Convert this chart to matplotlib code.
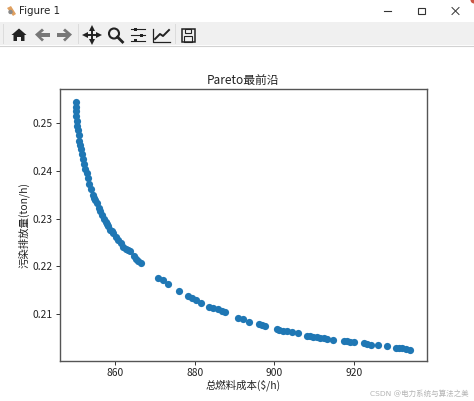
"""Pareto front scatter, inside the toolbar window it was screenshotted from."""
import matplotlib
matplotlib.use("Agg")
import matplotlib.pyplot as plt
from matplotlib.patches import Circle, Polygon, Rectangle

FONT = ["Noto Sans CJK SC", "DejaVu Sans"]
BLUE = "#1f77b4"
EDGE = "#555555"
ICON = "#222222"
ARROW = "#777777"

plt.rcParams["font.family"] = FONT
plt.rcParams["axes.unicode_minus"] = False

cost = [
    850.1, 850.1, 850.2, 850.2, 850.3, 850.4, 850.6, 850.8, 851.0, 851.1, 851.4, 851.6,
    851.9, 852.1, 852.4, 852.8, 853.1, 853.5, 853.9, 854.4, 854.7, 855.0, 855.3, 856.0, 856.3, 856.7,
    857.2, 857.6, 857.9, 858.2, 858.8, 859.1, 859.5, 860.1, 860.7, 861.4, 862.0, 862.7, 863.2, 863.6, 864.6,
    865.2, 865.8, 866.4, 870.8, 872.0, 873.3, 876.1, 878.3, 879.3, 880.3, 881.5, 883.6,
    884.5, 885.8, 886.8, 887.6, 890.8, 892.0, 893.7, 896.2, 896.9, 897.6, 900.6, 901.1,
    902.1, 903.1, 904.3, 906.0, 908.2, 908.9, 909.7, 910.6, 911.4, 912.4, 913.1, 914.8,
    917.5, 918.2, 919.0, 920.0, 922.5, 923.2, 924.2, 926.1, 928.3, 930.5, 931.3, 932.0,
    933.0, 934.1,
]
emission = [
    .2545, .2535, .2525, .2515, .2505, .2495, .2485, .2475, .2462, .2454, .2445, .2435,
    .2425, .2415, .2405, .2395, .2385, .2372, .2362, .2350, .2344, .2338, .2332, .2322, .2315, .2308,
    .2300, .2292, .2288, .2284, .2277, .2274, .2270, .2262, .2256, .2249, .2241, .2236, .2234, .2231, .2222,
    .2215, .2210, .2206, .2176, .2171, .2162, .2148, .2137, .2133, .2129, .2123, .2115,
    .2113, .2111, .2106, .2103, .2091, .2089, .2083, .2078, .2077, .2075, .2069, .2067,
    .2064, .2064, .2062, .2059, .2054, .2053, .2052, .2051, .2050, .2049, .2048, .2046,
    .2043, .2042, .2041, .2040, .2038, .2036, .2035, .2034, .2032, .2029, .2028, .2028,
    .2026, .2025,
]
x_ticks = [860, 880, 900, 920]
y_ticks = [0.21, 0.22, 0.23, 0.24, 0.25]

W, H = 474, 401
fig = plt.figure(figsize=(W / 100, H / 100), dpi=100, facecolor="white")

# plot area, placed by pixels
L, R, T, B = 59.5, 426.5, 88.5, 361
ax = fig.add_axes([L / W, 1 - B / H, (R - L) / W, (B - T) / H])
ax.scatter(cost, emission, s=27, color=BLUE, linewidths=0)
ax.set_xlim(846, 938.2)
ax.set_ylim(0.2001, 0.2573)
ax.set_xticks(x_ticks)
ax.set_yticks(y_ticks)
ax.set_yticklabels([f"{v:.2f}" for v in y_ticks])
ax.tick_params(labelsize=7.4, length=2.8, width=0.7, pad=2.5, color="#333333", labelcolor="#222222")
for s in ax.spines.values():
    s.set_color(EDGE)
    s.set_linewidth(1.0)
ax.set_title("Pareto最前沿", fontsize=8.5, pad=3.5, color="#222222")
ax.set_xlabel("总燃料成本($/h)", fontsize=7.5, labelpad=0.5, color="#222222")
ax.set_ylabel("污染排放量(ton/h)", fontsize=7.5, labelpad=1.5, color="#222222")

# window chrome on a full-figure pixel overlay
ui = fig.add_axes([0, 0, 1, 1], zorder=5)
ui.set_xlim(0, W)
ui.set_ylim(H, 0)
ui.axis("off")
ui.patch.set_alpha(0)

ui.add_patch(Rectangle((0, 22), W, 23, fc="#f0f0f0", ec="none"))
ui.plot([0, W], [45.5, 45.5], color="#d2d2d2", lw=0.8)
for sx in [3, 78.5, 175.5]:
    ui.plot([sx, sx], [24, 43], color="#dcdcdc", lw=0.7)

# title bar
ui.add_patch(Polygon([(7, 8), (11, 6), (16, 14), (13, 16)], fc="#e0a060", ec="none"))
ui.add_patch(Circle((10.5, 12), 2.2, fc="#8a8a8a", ec="none"))
ui.text(19.5, 11, "Figure 1", fontsize=7.4, family="DejaVu Sans", va="center", color="#222222")
ui.plot([384, 391], [11, 11], color="#333333", lw=0.8)
ui.add_patch(Rectangle((418.5, 7.5), 6.5, 6.5, fc="none", ec="#333333", lw=0.8))
ui.plot([452, 459], [7.5, 14.5], color="#333333", lw=0.7)
ui.plot([452, 459], [14.5, 7.5], color="#333333", lw=0.7)
ui.add_patch(Circle((474, 0), 3.5, fc="#cc5544", ec="none"))

# home
ui.add_patch(Polygon([(11.5, 35), (19, 28.5), (26.5, 35), (24.5, 35), (24.5, 41), (21, 41),
                      (21, 37), (17, 37), (17, 41), (13.5, 41), (13.5, 35)], fc=ICON, ec="none"))
# back, forward
ui.add_patch(Polygon([(35, 34.5), (42, 28.5), (44, 30.5), (41, 33), (50, 33), (50, 37), (41, 37),
                      (44, 39.5), (42, 41.5)], fc=ARROW, ec="none"))
ui.add_patch(Polygon([(72, 34.5), (65, 28.5), (63, 30.5), (66, 33), (57, 33), (57, 37), (66, 37),
                      (63, 39.5), (65, 41.5)], fc=ARROW, ec="none"))
# pan
ui.plot([85, 99], [35, 35], color=ICON, lw=1.4)
ui.plot([92, 92], [28, 42], color=ICON, lw=1.4)
for mx, my, mk in [(85, 35, "<"), (99, 35, ">"), (92, 28, "^"), (92, 42, "v")]:
    ui.plot(mx, my, mk, color=ICON, ms=4, mew=0)
# zoom
ui.add_patch(Circle((114, 33.5), 5, fc="none", ec=ICON, lw=1.5))
ui.plot([117.5, 122.5], [37, 42], color=ICON, lw=2)
# subplots
for ly, kx in [(29, 134), (35, 140), (40.5, 134)]:
    ui.plot([131, 145], [ly, ly], color=ICON, lw=0.8)
    ui.add_patch(Rectangle((kx, ly - 1.5), 3, 3, fc=ICON, ec="none"))
# axes editor
ui.plot([153, 153, 170], [29, 41.5, 41.5], color=ICON, lw=0.9)
ui.plot([155, 160, 163, 169], [39, 34, 36, 30], color=ICON, lw=1.4)
# save
ui.add_patch(Rectangle((182, 28.5), 13, 13, fc="none", ec=ICON, lw=1.1))
ui.add_patch(Rectangle((185, 28.5), 6.5, 4, fc="none", ec=ICON, lw=0.8))
ui.add_patch(Rectangle((184.5, 35.5), 8, 6, fc="none", ec=ICON, lw=0.8))

# watermark
ui.text(469, 393.5, "CSDN @电力系统与算法之美", fontsize=5.4, ha="right", va="center",
        family=["DejaVu Sans", "Noto Sans CJK SC"], color="#b4b4b4")

fig.savefig("out.png", dpi=100, facecolor="white")
